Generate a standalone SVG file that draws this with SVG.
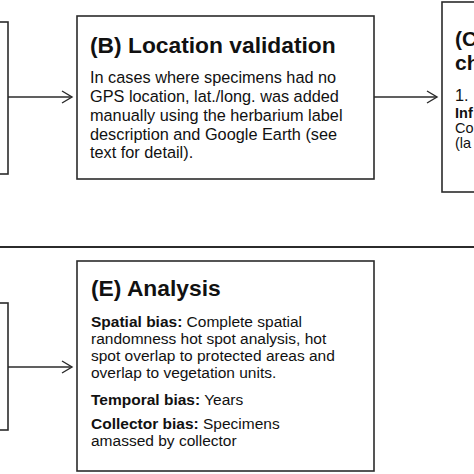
<svg xmlns="http://www.w3.org/2000/svg" width="474" height="474" viewBox="0 0 474 474">
<style>
.box{fill:#fff;stroke:#2b2b2b;stroke-width:1.6}
.conn{fill:none;stroke:#2b2b2b;stroke-width:1.4}
.t{font-family:"Liberation Sans",Arial,sans-serif;fill:#111}
.h{font-size:22.8px;font-weight:bold}
.hc{font-size:21px;font-weight:bold}
.b{font-size:16.3px}
.e{font-size:15.5px}
.c{font-size:14.5px}
.bold{font-weight:bold}
</style>
<defs>
<marker id="arr" markerUnits="userSpaceOnUse" markerWidth="14" markerHeight="14" refX="12" refY="7" orient="auto">
<path d="M2,1 L12,7 L2,13" fill="none" stroke="#2b2b2b" stroke-width="1.4"/>
</marker>
</defs>
<rect width="474" height="474" fill="#fff"/>
<g id="nodeA"><rect class="box" x="-20" y="22" width="28" height="152"/></g>
<g id="nodeB">
<rect class="box" x="77" y="16" width="297" height="163"/>
<text class="t h" x="90" y="53">(B) Location validation</text>
<text class="t b" x="90" y="83">In cases where specimens had no</text>
<text class="t b" x="90" y="102">GPS location, lat./long. was added</text>
<text class="t b" x="90" y="121">manually using the herbarium label</text>
<text class="t b" x="90" y="140">description and Google Earth (see</text>
<text class="t b" x="90" y="158">text for detail).</text>
</g>
<g id="nodeC">
<rect class="box" x="442" y="2" width="60" height="190"/>
<text class="t hc" x="455" y="46">(C</text>
<text class="t hc" x="455" y="70">ch</text>
<text class="t b" x="455" y="101">1.</text>
<text class="t c bold" x="455" y="118">Inf</text>
<text class="t c" x="455" y="133">Co</text>
<text class="t c" x="455" y="148">(la</text>
</g>
<g id="nodeD"><rect class="box" x="-20" y="303" width="28" height="127"/></g>
<g id="nodeE">
<rect class="box" x="77" y="261" width="297" height="210"/>
<text class="t h" x="91" y="296">(E) Analysis</text>
<text class="t e" x="91" y="327"><tspan class="bold">Spatial bias:</tspan> Complete spatial</text>
<text class="t e" x="91" y="344">randomness hot spot analysis, hot</text>
<text class="t e" x="91" y="361">spot overlap to protected areas and</text>
<text class="t e" x="91" y="378">overlap to vegetation units.</text>
<text class="t e" x="91" y="405"><tspan class="bold">Temporal bias:</tspan> Years</text>
<text class="t e" x="91" y="429"><tspan class="bold">Collector bias:</tspan> Specimens</text>
<text class="t e" x="91" y="446">amassed by collector</text>
</g>
<g id="connectors">
<line class="conn" x1="8" y1="97" x2="72" y2="97" marker-end="url(#arr)"/>
<line class="conn" x1="374" y1="97" x2="437" y2="97" marker-end="url(#arr)"/>
<line class="conn" x1="8" y1="367" x2="72" y2="367" marker-end="url(#arr)"/>
</g>
<line x1="0" y1="247" x2="474" y2="247" stroke="#2b2b2b" stroke-width="2"/>
</svg>
